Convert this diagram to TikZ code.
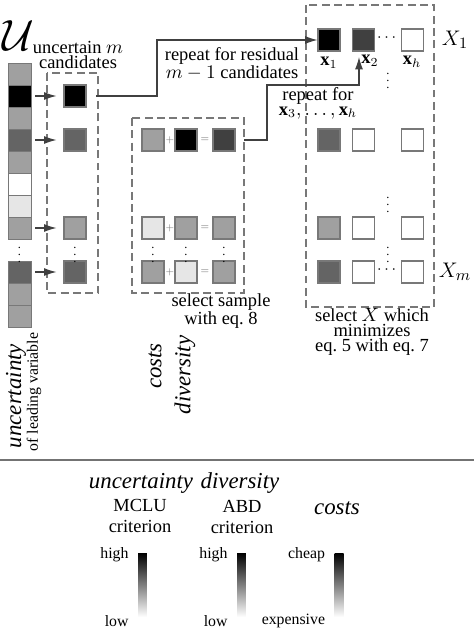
\documentclass[tikz,border=0pt]{standalone}
\usepackage{amsmath}
\usepackage{fontspec}
\setmainfont{Liberation Serif}
\usepackage{xcolor}
\usetikzlibrary{arrows.meta, positioning, calc}
\definecolor{cellgray}{RGB}{160, 160, 160}
\definecolor{celldark}{RGB}{100, 100, 100}
\definecolor{celldeep}{RGB}{64, 64, 64}
\definecolor{celllight}{RGB}{230, 230, 230}
\definecolor{framegray}{RGB}{120, 120, 120}

\begin{document}
\begin{tikzpicture}[x=0.02cm, y=-0.02cm,
        sq/.style={draw=framegray, line width=0.6pt, minimum size=0.44cm, inner sep=0pt},
        barcell/.style={draw=framegray, line width=0.5pt, minimum width=0.46cm, minimum height=0.44cm, inner sep=0pt},
        dbox/.style={draw=framegray, line width=0.7pt, dash pattern=on 4.5pt off 2.5pt},
        lbl/.style={font=\fontsize{10.5}{8.5}\selectfont, align=center, inner sep=1pt},
        scale lbl/.style={font=\fontsize{9}{9}\selectfont, inner sep=1pt},
        big/.style={font=\fontsize{13}{15}\selectfont\itshape, inner sep=1pt},
        dots/.style={font=\fontsize{7}{7}\selectfont, inner sep=0pt},
        op/.style={font=\tiny, text=framegray, inner sep=0pt},
        flow/.style={draw=black!75, line width=0.6pt},
        tip/.style={-{Latex[length=7pt, width=4.5pt]}},
        gradbar/.style={minimum width=0.18cm, minimum height=1.28cm, inner sep=0pt, top color=black, bottom color=white}]
        \useasboundingbox (0,0) rectangle (474,640);

        % leading variable
        \node[font=\fontsize{24}{26}\selectfont, inner sep=0pt] (calU) at (18,36) {$\mathcal{U}$};
        \foreach \i/\c in {0/cellgray, 1/black, 2/cellgray, 3/celldark, 4/cellgray, 5/white, 6/celllight,
                7/cellgray, 9/celldark, 10/cellgray, 11/cellgray} {
            \node[barcell, fill=\c] (u\i) at (19.5, 74+22*\i) {};
        }
        \node[dots] (udots) at (19.5,250) {$\vdots$};
        \node[big, rotate=90] (uncLbl) at (16,396) {uncertainty};
        \node[lbl, font=\fontsize{9}{10}\selectfont, rotate=90] (leadLbl) at (34,392) {of leading variable};

        % uncertain candidates
        \node[lbl] (candLbl) at (78,55) {uncertain $m$\\candidates};
        \draw[dbox] (47,73) rectangle (98,293);
        \foreach \k/\i/\c in {1/1/black, 2/3/celldark, 3/7/cellgray, 4/9/celldark} {
            \node[sq, fill=\c] (c\k) at (75, 74+22*\i) {};
            \draw[flow, tip, shorten <=2.3pt, shorten >=4pt] (u\i) -- (c\k);
        }
        \node[dots] (cdots) at (75,250) {$\vdots$};

        % costs + diversity
        \draw[dbox] (132,118) rectangle (244,293);
        \foreach \r/\y/\ca/\cb/\cc in {1/140/cellgray/black/celldeep, 2/228/celllight/cellgray/cellgray,
                3/272/cellgray/celllight/cellgray} {
            \node[sq, fill=\ca] (ma\r) at (153,\y) {};
            \node[op] (plus\r) at (170,\y) {$+$};
            \node[sq, fill=\cb] (mb\r) at (186,\y) {};
            \node[op] (eq\r) at (205,\y) {$=$};
            \node[sq, fill=\cc] (mc\r) at (224,\y) {};
        }
        \foreach \x/\n in {153/a, 186/b, 224/c} {
            \node[dots] (mdots\n) at (\x,250) {$\vdots$};
        }
        \node[lbl] (selLbl) at (221,311) {select sample\\with eq.~8};
        \node[big, rotate=90] (costsLbl) at (155,366) {costs};
        \node[big, rotate=90] (divLbl) at (185,375) {diversity};

        % selected set
        \draw[dbox] (306,5) rectangle (434,307);
        \node[sq, fill=black] (xa1) at (329,40) {};
        \node[sq, fill=celldeep] (xb1) at (363.5,40) {};
        \node[sq, fill=white] (xc1) at (412.5,40) {};
        \foreach \r/\y/\c in {2/140/celldark, 3/228/cellgray, 4/272/celldark} {
            \node[sq, fill=\c] (xa\r) at (329,\y) {};
            \node[sq, fill=white] (xb\r) at (363.5,\y) {};
            \node[sq, fill=white] (xc\r) at (412.5,\y) {};
        }
        \node[dots, font=\fontsize{9}{9}\selectfont] (hdots1) at (388,38) {$\cdots$};
        \node[dots, font=\fontsize{9}{9}\selectfont] (hdots4) at (388,270) {$\cdots$};
        \foreach \y/\n in {76/1, 200/2, 250/3} {
            \node[dots] (xdots\n) at (388,\y) {$\vdots$};
        }
        \node[lbl] (x1Lbl) at (329,63) {$\mathbf{x}_1$};
        \node[lbl] (x2Lbl) at (370,61) {$\mathbf{x}_2$};
        \node[lbl] (xhLbl) at (412,62) {$\mathbf{x}_h$};
        \node[font=\fontsize{13}{15}\selectfont] (X1Lbl) at (455,40) {$X_1$};
        \node[font=\fontsize{13}{15}\selectfont] (XmLbl) at (455,272) {$X_m$};
        \node[lbl] (minLbl) at (372,332) {select $X$ which\\minimizes\\eq.~5 with eq.~7};

        % repeat loops
        \coordinate (bendA) at (157,40);
        \draw[flow, tip] ([xshift=5.5pt]c1.east) -| (bendA) -- (xa1);
        \node[lbl] (rep1Lbl) at (232,64) {repeat for residual\\$m-1$ candidates};
        \coordinate (bendB) at (267,85);
        \coordinate (rep2End) at (359,57);
        \draw[flow, tip] ([xshift=5pt]mc1.east) -| (bendB) -| (rep2End);
        \node[lbl] (rep2Lbl) at (318,103) {repeat for\\$\mathbf{x}_3,\dots,\mathbf{x}_h$};

        % legend
        \draw[black!55, line width=1pt] (0,460) -- (474,460);
        \node[big] (legUnc) at (141,483) {uncertainty};
        \node[big] (legDiv) at (240,483) {diversity};
        \node[big] (legCost) at (337,508) {costs};
        \node[lbl] (mcluLbl) at (140,516) {MCLU\\[3pt]criterion};
        \node[lbl] (abdLbl) at (242,517) {ABD\\[3pt]criterion};
        \foreach \n/\x/\top/\bot in {1/142.5/high/low, 2/241.5/high/low, 3/339/cheap/expensive} {
            \node[gradbar] (bar\n) at (\x,585) {};
            \node[scale lbl, anchor=east] (top\n) at ([xshift=-4pt, yshift=-1pt]bar\n.north west) {\top};
            \node[scale lbl, anchor=east] (bot\n) at ([xshift=-4pt, yshift=-2pt]bar\n.south west) {\bot};
        }

\end{tikzpicture}
\end{document}
